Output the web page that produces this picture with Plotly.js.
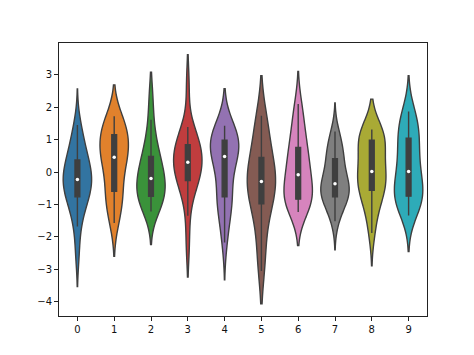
<!DOCTYPE html>
<html>
<head>
<meta charset="utf-8">
<script src="https://cdn.plot.ly/plotly-3.0.1.min.js"></script>
<style>html,body{margin:0;padding:0;background:#fff;}#chart{width:474px;height:355px;}</style>
</head>
<body>
<div id="chart"></div>
<script>
// Categories (x tick labels)
const categories = ['0','1','2','3','4','5','6','7','8','9'];

// Sample values, one array per violin
const v0 = [-2.5,-1.68,-1.3,-1.0,-0.8,-0.73,-0.6,-0.45,-0.35,-0.27,-0.19,-0.1,0.0,0.15,0.33,0.41,0.6,0.85,1.1,1.45];
const v1 = [-1.57,-1.3,-1.0,-0.72,-0.62,-0.565,-0.1,0.2,0.35,0.42,0.5,0.65,0.8,0.92,1.05,1.25,1.33,1.42,1.55,1.72];
const v2 = [-1.22,-1.05,-0.95,-0.85,-0.78,-0.71,-0.6,-0.45,-0.32,-0.24,-0.16,-0.05,0.1,0.25,0.42,0.54,0.8,1.1,1.61,2.35];
const v3 = [-2.3,-1.35,-0.6,-0.4,-0.3,-0.22,-0.05,0.1,0.2,0.26,0.34,0.45,0.58,0.68,0.78,0.9,1.0,1.15,1.39,2.7];
const v4 = [-2.17,-1.6,-1.2,-0.95,-0.8,-0.733,-0.4,0.0,0.3,0.42,0.54,0.65,0.75,0.85,0.92,1.04,1.1,1.2,1.3,1.43];
const v5 = [-3.05,-2.58,-2.0,-1.5,-1.05,-0.903,-0.75,-0.6,-0.45,-0.33,-0.25,-0.1,0.05,0.2,0.35,0.55,0.95,1.3,1.55,1.74];
const v6 = [-1.23,-1.05,-0.95,-0.88,-0.85,-0.823,-0.7,-0.5,-0.3,-0.15,-0.01,0.1,0.3,0.5,0.68,0.84,1.1,1.4,1.75,2.1];
const v7 = [-1.52,-1.2,-1.0,-0.85,-0.78,-0.74,-0.65,-0.55,-0.45,-0.39,-0.33,-0.2,-0.05,0.15,0.35,0.47,0.6,0.8,1.0,1.25];
const v8 = [-1.88,-1.4,-1.0,-0.75,-0.6,-0.533,-0.4,-0.25,-0.1,-0.02,0.06,0.3,0.5,0.7,0.9,1.06,1.1,1.18,1.25,1.31];
const v9 = [-1.34,-1.1,-0.95,-0.85,-0.77,-0.717,-0.6,-0.45,-0.25,-0.05,0.09,0.3,0.5,0.75,0.96,1.12,1.3,1.5,1.7,1.87];
const series = [v0,v1,v2,v3,v4,v5,v6,v7,v8,v9];

// Visible extent (tips) of each violin
const tipLow  = [-3.53,-2.6,-2.24,-3.24,-3.32,-4.06,-2.27,-2.4,-2.89,-2.45];
const tipHigh = [2.56,2.69,3.08,3.62,2.57,2.97,3.1,2.13,2.25,2.97];

const colors = ['#3274a1','#e1812c','#3a923a','#c03d3e','#9372b2','#845b53','#d684bd','#7f7f7f','#a9aa35','#2eabb8'];
const edge = '#3f3f3f';

function scottBw(a){
  const n = a.length;
  const m = a.reduce((s,x)=>s+x,0)/n;
  const sd = Math.sqrt(a.reduce((s,x)=>s+(x-m)*(x-m),0)/(n-1));
  return sd*Math.pow(n,-0.2);
}
function median(a){
  const s = a.slice().sort((p,q)=>p-q);
  const n = s.length;
  return n%2 ? s[(n-1)/2] : (s[n/2-1]+s[n/2])/2;
}

const traces = series.map((vals,i)=>({
  type:'violin',
  x0: categories[i],
  y: vals,
  name: categories[i],
  width: 0.77,
  scalemode: 'count',
  scalegroup: 'all',
  bandwidth: scottBw(vals),
  spanmode: 'manual',
  span: [tipLow[i], tipHigh[i]],
  points: 'outliers',
  marker: {size: 0, opacity: 0},
  fillcolor: colors[i],
  opacity: 1,
  line: {color: edge, width: 1.4},
  box: {visible: true, width: 0.17, fillcolor: edge, line: {color: edge, width: 1.4}},
  meanline: {visible: false},
  hoverinfo: 'skip',
  showlegend: false
}));

traces.push({
  type:'scatter',
  mode:'markers',
  x: categories,
  y: series.map(median),
  marker: {color:'#ffffff', size:3.5, line:{width:0}},
  hoverinfo:'skip',
  showlegend:false
});

const axisCommon = {
  showgrid:false, zeroline:false,
  showline:true, mirror:true, linecolor:'#222', linewidth:1,
  ticks:'outside', ticklen:4, tickwidth:1, tickcolor:'#222',
  tickfont:{family:'DejaVu Sans', size:10, color:'#111'}
};

const layout = {
  width:474, height:355,
  margin:{l:59, r:47, t:43, b:39},
  paper_bgcolor:'#fff', plot_bgcolor:'#fff',
  showlegend:false,
  violinmode:'overlay',
  xaxis: Object.assign({}, axisCommon, {type:'category', categoryorder:'array', categoryarray:categories, range:[-0.5,9.5]}),
  yaxis: Object.assign({}, axisCommon, {range:[-4.44,3.98], tickvals:[-4,-3,-2,-1,0,1,2,3]})
};

Plotly.newPlot('chart', traces, layout, {displayModeBar:false, staticPlot:true});
</script>
</body>
</html>
